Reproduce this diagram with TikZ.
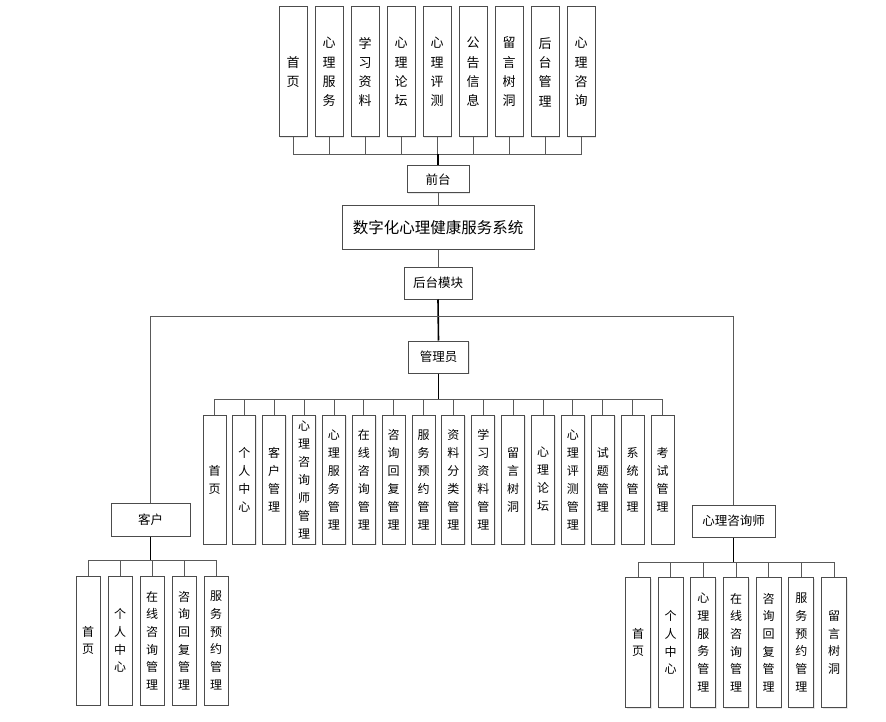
\documentclass[tikz,border=0pt]{standalone}
\usepackage{fontspec}
\setmainfont{Noto Sans CJK SC}
\usetikzlibrary{positioning, shadows}

\tikzset{
  box/.style={draw=black!70, line width=1pt, fill=white, align=center, inner sep=0pt,
    drop shadow={shadow xshift=1.2pt, shadow yshift=-1.2pt, fill=black!15, opacity=0.6}},
  topbox/.style={box, minimum width=28pt, minimum height=130pt, font=\fontsize{13}{19.3}\selectfont},
  midbox/.style={box, minimum width=23pt, minimum height=129pt, font=\fontsize{12}{18}\selectfont},
  lowbox/.style={box, minimum width=24pt, minimum height=129pt, font=\fontsize{12}{17.7}\selectfont},
  headbox/.style={box, font=\fontsize{12.5}{15}\selectfont},
  link/.style={draw=black!65, line width=0.9pt},
  trunk/.style={draw=black, line width=1.6pt}
}

\begin{document}
\begin{tikzpicture}[x=1pt,y=-1pt]
\useasboundingbox (0,0) rectangle (886,722);

% system and head boxes
\node[box, minimum width=192pt, minimum height=43pt, font=\fontsize{15.5}{18}\selectfont] (sys) at (438,227.5) {数字化心理健康服务系统};
\node[headbox, minimum width=62pt, minimum height=27pt] (qt) at (438,179.5) {前台};
\node[headbox, minimum width=68pt, minimum height=32pt] (ht) at (438,283) {后台模块};
\node[headbox, minimum width=60pt, minimum height=32pt] (gly) at (438.5,357) {管理员};
\node[headbox, minimum width=79pt, minimum height=33pt] (kh) at (150.5,519.5) {客户};
\node[headbox, minimum width=83pt, minimum height=32pt] (zxs) at (733.5,521) {心理咨询师};

% front end modules
\foreach \t [count=\i] in {首\\页, 心\\理\\服\\务, 学\\习\\资\\料, 心\\理\\论\\坛, 心\\理\\评\\测,
    公\\告\\信\\息, 留\\言\\树\\洞, 后\\台\\管\\理, 心\\理\\咨\\询}
  \node[topbox] (q\i) at ({293+36*(\i-1)},72) {\t};

\coordinate (qbus) at (438,154);
\foreach \i in {1,...,9}
  \draw[link] (q\i.south) |- (qbus);
\draw[trunk] (qbus) -- (qt.north);
\draw[link] (qt.south) -- (sys.north);
\draw[link] (sys.south) -- (ht.north);

% back end roles
\coordinate (hbus) at (438,316);
\draw[trunk] (ht.south) -- (gly.north);
\draw[link] (hbus) -| (kh.north);
\draw[link] (hbus) -| (zxs.north);

% admin modules
\foreach \t [count=\i] in {首\\页, 个\\人\\中\\心, 客\\户\\管\\理, 心\\理\\咨\\询\\师\\管\\理,
    心\\理\\服\\务\\管\\理, 在\\线\\咨\\询\\管\\理, 咨\\询\\回\\复\\管\\理, 服\\务\\预\\约\\管\\理,
    资\\料\\分\\类\\管\\理, 学\\习\\资\\料\\管\\理, 留\\言\\树\\洞, 心\\理\\论\\坛,
    心\\理\\评\\测\\管\\理, 试\\题\\管\\理, 系\\统\\管\\理, 考\\试\\管\\理}
  \node[midbox] (g\i) at ({214.5+29.87*(\i-1)},479.5) {\t};

\coordinate (gbus) at (438.5,399);
\foreach \i in {1,...,16}
  \draw[link] (g\i.north) |- (gbus);
\draw[trunk] (gly.south) -- (gbus);

% customer modules
\foreach \t [count=\i] in {首\\页, 个\\人\\中\\心, 在\\线\\咨\\询\\管\\理, 咨\\询\\回\\复\\管\\理,
    服\\务\\预\\约\\管\\理}
  \node[lowbox] (k\i) at ({88+32*(\i-1)},640.5) {\t};

\coordinate (kbus) at (150.5,560);
\foreach \i in {1,...,5}
  \draw[link] (k\i.north) |- (kbus);
\draw[trunk] (kh.south) -- (kbus);

% counsellor modules
\foreach \t [count=\i] in {首\\页, 个\\人\\中\\心, 心\\理\\服\\务\\管\\理, 在\\线\\咨\\询\\管\\理,
    咨\\询\\回\\复\\管\\理, 服\\务\\预\\约\\管\\理, 留\\言\\树\\洞}
  \node[lowbox, minimum width=25pt, minimum height=130pt] (z\i) at ({638+32.67*(\i-1)},642.5) {\t};

\coordinate (zbus) at (733.5,562);
\foreach \i in {1,...,7}
  \draw[link] (z\i.north) |- (zbus);
\draw[trunk] (zxs.south) -- (zbus);

\end{tikzpicture}
\end{document}
